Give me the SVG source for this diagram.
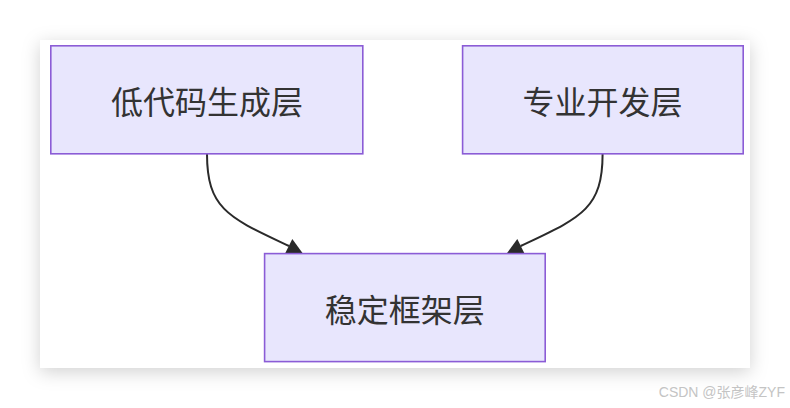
<svg xmlns="http://www.w3.org/2000/svg" width="790" height="408" viewBox="0 0 790 408">
  <defs>
    <filter id="shadow" x="-10%" y="-20%" width="120%" height="140%">
      <feDropShadow dx="0" dy="4" stdDeviation="9" flood-color="#000" flood-opacity="0.18"/>
    </filter>
    <style>
      .node rect { fill: #E8E6FD; stroke: #8B5CD6; stroke-width: 1.6; }
      .node text { font-family: "Noto Sans CJK SC", "Noto Sans", sans-serif; font-size: 32px; fill: #333; text-anchor: middle; dominant-baseline: central; }
      .edge { fill: none; stroke: #2a2a2a; stroke-width: 2; }
      .head { fill: #2a2a2a; stroke: none; }
      .wm { font-family: "Liberation Sans", "Noto Sans CJK SC", sans-serif; font-size: 14px; fill: #c4c4c4; text-anchor: end; }
    </style>
  </defs>
  <rect x="0" y="0" width="790" height="408" fill="#ffffff"/>
  <rect x="40" y="40" width="710" height="328" fill="#ffffff" filter="url(#shadow)"/>
  <g id="connectors">
    <path class="edge" d="M207,154 C207,210 230,218 289,246"/>
    <polygon class="head" points="292.3,239 285.2,253.2 302.7,253.2"/>
    <path class="edge" d="M602.6,154 C602.6,210 579.6,218 520.6,246"/>
    <polygon class="head" points="517.3,239 524.4,253.2 506.9,253.2"/>
  </g>
  <g id="node-lowcode" class="node">
    <rect x="50.8" y="45.8" width="312" height="108"/>
    <text x="207" y="99.5">低代码生成层</text>
  </g>
  <g id="node-prodev" class="node">
    <rect x="462.6" y="45.8" width="280.6" height="108"/>
    <text x="602.6" y="99.5">专业开发层</text>
  </g>
  <g id="node-framework" class="node">
    <rect x="264.6" y="253.6" width="280.6" height="108"/>
    <text x="404.8" y="307.5">稳定框架层</text>
  </g>
  <text class="wm" x="785" y="397">CSDN @张彦峰ZYF</text>
</svg>
